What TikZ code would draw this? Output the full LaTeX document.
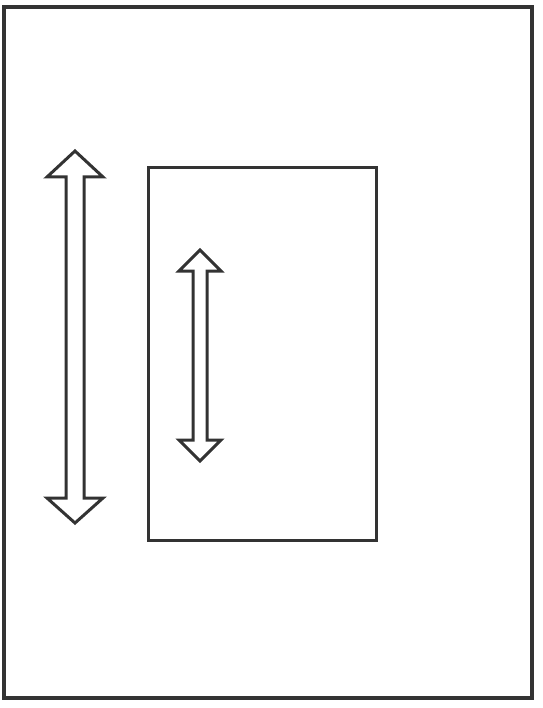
\documentclass[tikz,border=0pt]{standalone}
\begin{document}
\begin{tikzpicture}[x=1pt,y=-1pt,
  frame/.style={draw=black!80,line width=3.5pt},
  inbox/.style={draw=black!80,line width=3pt},
  darrow/.style={draw=black!80,line width=3pt,fill=white,line join=miter}]
\useasboundingbox (0,0) rectangle (542,708);
\draw[frame] (4,7) rectangle (532,698);
\draw[inbox] (148,168) rectangle (376,540);
\draw[darrow] (75,151) -- (103,177) -- (84,177) -- (84,498) -- (103,498) -- (75,523)
  -- (47,498) -- (66,498) -- (66,177) -- (47,177) -- cycle;
\draw[darrow] (200,250) -- (221,271) -- (207,271) -- (207,440) -- (221,440) -- (200,461)
  -- (179,440) -- (193,440) -- (193,271) -- (179,271) -- cycle;
\end{tikzpicture}
\end{document}
